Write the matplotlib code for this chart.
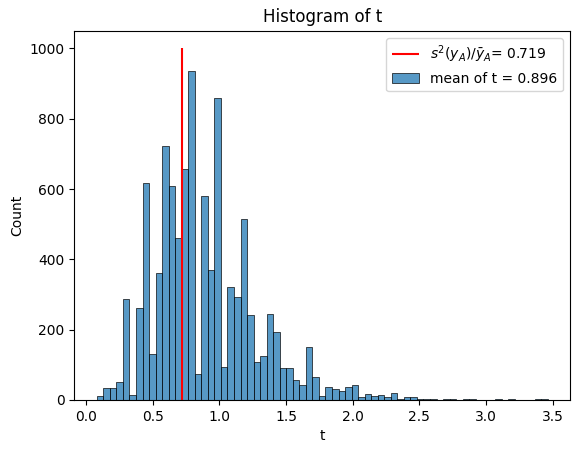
import numpy as np
import pandas as pd
import matplotlib
matplotlib.use("Agg")
import matplotlib.pyplot as plt
import seaborn as sns

# bin counts
counts = [11, 33, 33, 51, 286, 13, 263, 618, 130, 360, 721, 610, 462, 658, 937,
          73, 579, 371, 860, 93, 320, 292, 516, 243, 107, 124, 246, 192, 90, 90,
          56, 44, 150, 64, 10, 36, 30, 25, 36, 42, 8, 16, 10, 13, 8, 19, 2, 8,
          8, 2, 4, 2, 0, 2, 2, 0, 2, 2, 0, 0, 0, 2, 0, 4, 0, 0, 0, 2, 2]
t_min, t_max = 0.0795, 3.463
ratio = 0.719
mean_t = 0.896

edges = np.linspace(t_min, t_max, len(counts) + 1)
centers = (edges[:-1] + edges[1:]) / 2
df = pd.DataFrame({"t": centers, "w": counts})

fig, ax = plt.subplots(figsize=(5.8, 4.53), dpi=100)
fig.subplots_adjust(left=0.128, right=0.983, top=0.932, bottom=0.117)
ax.vlines(ratio, 0, 1000, color="red",
          label=r"$s^2(y_A)/\bar{y}_A$= " + f"{ratio}")
sns.histplot(data=df, x="t", weights="w", bins=len(counts),
             binrange=(t_min, t_max), ax=ax,
             label=f"mean of t = {mean_t}")
ax.set_title("Histogram of t")
ax.set_xlabel("t")
ax.set_ylabel("Count")
ax.legend()
fig.savefig("out.png", dpi=100)
